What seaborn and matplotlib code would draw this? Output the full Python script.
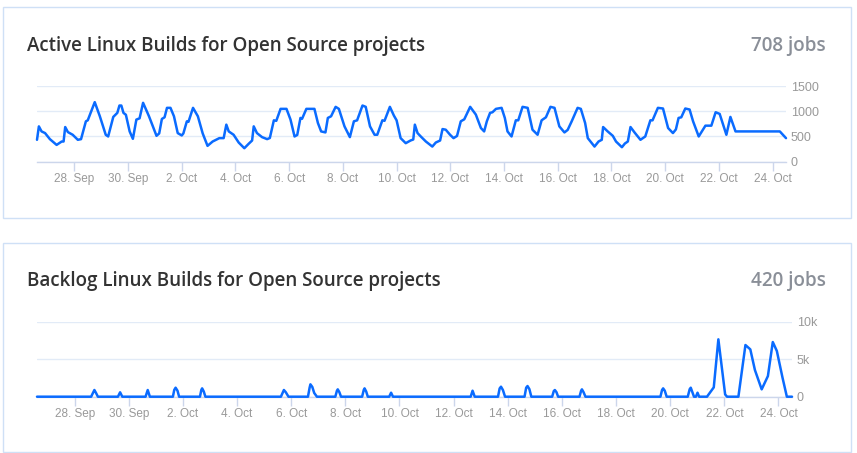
import matplotlib
matplotlib.use("Agg")
import matplotlib.pyplot as plt
import matplotlib.dates as mdates
from matplotlib.patches import Rectangle
import seaborn as sns
import pandas as pd

# time in days after 28 Sep 00:00
active_days = [
    -1.39, -1.32, -1.22, -1.09, -0.91, -0.66, -0.47, -0.40, -0.34, -0.24, -0.06,
    0.13, 0.25, 0.43, 0.50, 0.76, 0.95, 1.17, 1.26, 1.45, 1.60, 1.68, 1.75, 1.83,
    1.92, 2.06, 2.18, 2.31, 2.43, 2.56, 2.78, 3.06, 3.16, 3.26, 3.36, 3.45, 3.58,
    3.71, 3.85, 4.00, 4.06, 4.19, 4.25, 4.42, 4.60, 4.78, 4.96, 5.15, 5.40, 5.56,
    5.66, 5.75, 5.93, 6.12, 6.33, 6.49, 6.62, 6.68, 6.80, 6.99, 7.18, 7.28, 7.43,
    7.52, 7.68, 7.90, 8.05, 8.20, 8.30, 8.42, 8.48, 8.64, 8.94, 9.07, 9.19, 9.35,
    9.44, 9.56, 9.73, 9.85, 10.06, 10.26, 10.41, 10.53, 10.73, 10.85, 11.01, 11.18,
    11.28, 11.47, 11.55, 11.75, 11.90, 12.00, 12.15, 12.34, 12.52, 12.62, 12.68,
    12.78, 12.90, 13.09, 13.33, 13.46, 13.62, 13.71, 13.83, 13.99, 14.12, 14.25,
    14.39, 14.52, 14.74, 14.95, 15.14, 15.26, 15.36, 15.48, 15.57, 15.70, 15.91,
    16.03, 16.13, 16.28, 16.44, 16.53, 16.69, 16.88, 17.06, 17.25, 17.40, 17.56,
    17.73, 17.88, 18.06, 18.25, 18.37, 18.52, 18.74, 18.86, 19.02, 19.12, 19.37,
    19.52, 19.64, 19.69, 19.86, 20.05, 20.17, 20.39, 20.50, 20.61, 20.71, 20.86,
    21.08, 21.26, 21.45, 21.53, 21.73, 21.92, 22.11, 22.29, 22.40, 22.50, 22.60,
    22.75, 22.91, 23.04, 23.25, 23.50, 23.72, 23.88, 24.03, 24.28, 24.43, 24.62,
    26.27, 26.50,
]
active_jobs = [
    434, 700, 600, 567, 447, 333, 400, 400, 687, 587, 533,
    434, 447, 800, 820, 1180, 900, 533, 500, 887, 967, 1113, 1113, 967,
    930, 600, 453, 834, 860, 1167, 900, 513, 560, 847, 880, 1067, 1067,
    900, 567, 520, 560, 800, 790, 1067, 900, 560, 314, 400, 467, 467,
    734, 600, 534, 380, 267, 354, 420, 700, 567, 487, 447, 470, 820,
    810, 1047, 1047, 834, 500, 530, 867, 850, 1047, 1047, 767, 600, 580,
    867, 900, 1087, 1047, 700, 487, 800, 820, 1113, 1087, 700, 534,
    534, 820, 810, 1087, 913, 820, 467, 367, 420, 440, 734,
    567, 500, 400, 300, 380, 420, 647, 634, 534, 467, 510,
    800, 840, 1087, 934, 667, 600, 800, 967, 980, 1047, 1067,
    867, 600, 500, 820, 820, 1087, 1067, 634, 534, 820, 880,
    1087, 1067, 700, 580, 630, 800, 1067, 1047, 767, 467, 300,
    400, 434, 687, 600, 513, 400, 287, 360, 400, 687, 580,
    434, 500, 820, 820, 1067, 1054, 667, 567, 640, 867, 880,
    1054, 1034, 800, 500, 714, 714, 980, 947, 534, 887, 600,
    600, 467,
]

backlog_days = [
    -1.39, 0.61, 0.69, 0.73, 0.79, 0.86, 1.60, 1.68, 1.76, 2.62, 2.70, 2.78,
    3.63, 3.68, 3.73, 3.80, 3.86, 4.63, 4.68, 4.71, 4.77, 4.83, 7.62, 7.73,
    7.80, 7.90, 8.62, 8.68, 8.71, 8.78, 8.85, 8.95, 9.63, 9.69, 9.72, 9.78,
    9.84, 10.62, 10.68, 10.71, 10.77, 10.83, 11.62, 11.69, 11.76, 14.63, 14.70,
    14.78, 15.64, 15.70, 15.75, 15.82, 15.90, 16.62, 16.68, 16.73, 16.80, 16.87,
    17.64, 17.70, 17.74, 17.80, 17.86, 18.65, 18.71, 18.74, 18.80, 18.87, 21.64,
    21.70, 21.74, 21.80, 21.87, 22.65, 22.72, 22.76, 22.82, 22.88, 22.95, 23.01,
    23.07, 23.36, 23.61, 23.78, 24.03, 24.10, 24.52, 24.78, 24.96, 25.13, 25.38,
    25.61, 25.79, 25.94, 26.15, 26.31, 26.50,
]
backlog_jobs = [
    0, 0, 600, 893, 500, 0, 0, 586, 0, 0, 893, 0,
    0, 900, 1200, 800, 0, 0, 900, 1111, 700, 0, 0, 893,
    600, 0, 0, 1200, 1650, 1300, 500, 0, 0, 800, 978, 600,
    0, 0, 900, 1111, 700, 0, 0, 533, 0, 0, 800,
    0, 0, 1100, 1333, 900, 0, 0, 1200, 1422, 1000, 0,
    0, 750, 893, 600, 0, 0, 800, 978, 600, 0, 0,
    900, 1111, 800, 0, 0, 1000, 1200, 600, 0, 0, 533,
    0, 0, 1244, 7650, 300, 0, 0, 6890, 6310, 3560, 980,
    2750, 7290, 6100, 2530, 0, 0,
]

panel_titles = ["Active Linux Builds for Open Source projects",
                "Backlog Linux Builds for Open Source projects"]
panel_totals = ["708 jobs", "420 jobs"]
active_ticks = [0, 500, 1000, 1500]
active_tick_labels = ["0", "500", "1000", "1500"]
backlog_ticks = [0, 5000, 10000]
backlog_tick_labels = ["0", "5k", "10k"]

base = pd.Timestamp("2018-09-28")
date_ticks = pd.date_range("2018-09-28", "2018-10-24", freq="2D")

active = pd.DataFrame({"time": base + pd.to_timedelta(active_days, unit="D"),
                       "jobs": active_jobs})
backlog = pd.DataFrame({"time": base + pd.to_timedelta(backlog_days, unit="D"),
                        "jobs": backlog_jobs})

sns.set_theme(style="white")
plt.rcParams["font.family"] = ["Liberation Sans", "DejaVu Sans"]

W, H = 857, 453
fig = plt.figure(figsize=(W / 100, H / 100), dpi=100)

line_color = "#0a6bff"
grid_color = "#e2ebf7"
axis_color = "#ccd6eb"
label_color = "#999999"

# panel boxes (pixel coords -> figure coords)
for top_px, h_px in ((7.5, 210), (242.5, 209)):
    fig.patches.append(Rectangle((2.5 / W, 1 - (top_px + h_px) / H), 848 / W, h_px / H,
                                 transform=fig.transFigure, fill=False,
                                 edgecolor="#cfe0f6", linewidth=1.0))

ax1 = fig.add_axes([37 / W, 1 - 161.7 / H, 749 / W, 75.7 / H])
ax2 = fig.add_axes([37 / W, 1 - 396.7 / H, 755 / W, 75 / H])

setups = [
    (ax1, active, active_ticks, active_tick_labels, (0, 1500), 46),
    (ax2, backlog, backlog_ticks, backlog_tick_labels, (0, 10000), 281),
]

for i, (ax, df, yt, ytl, ylim, title_y) in enumerate(setups):
    sns.lineplot(data=df, x="time", y="jobs", ax=ax, color=line_color,
                 linewidth=1.8, zorder=3)
    ax.set_xlim(df["time"].iloc[0], df["time"].iloc[-1])
    ax.set_ylim(*ylim)
    ax.set_xlabel("")
    ax.set_ylabel("")
    ax.set_yticks(yt)
    ax.set_yticklabels(ytl)
    ax.yaxis.tick_right()
    ax.set_xticks(date_ticks)
    ax.xaxis.set_major_formatter(mdates.DateFormatter("%-d. %b"))
    ax.grid(axis="y", color=grid_color, linewidth=1.0)
    ax.grid(axis="x", visible=False)
    for side in ("top", "left", "right"):
        ax.spines[side].set_visible(False)
    ax.spines["bottom"].set_color(axis_color)
    ax.spines["bottom"].set_linewidth(1.0)
    ax.tick_params(axis="x", length=6.5, width=1.0, color=axis_color,
                   labelcolor=label_color, labelsize=8.5, pad=1.5, bottom=True)
    ax.tick_params(axis="y", length=0, labelcolor=label_color, labelsize=9,
                   pad=3.5, right=False, labelright=True, labelleft=False)
    for ln in ax.lines:
        ln.set_clip_on(False)

    fig.text(27 / W, 1 - title_y / H, panel_titles[i], family=["Open Sans", "DejaVu Sans"],
             fontsize=13.5, fontweight="semibold", color="#333333", va="center", ha="left")
    fig.text(826 / W, 1 - title_y / H, panel_totals[i], family=["Open Sans", "DejaVu Sans"],
             fontsize=13.6, fontweight="semibold", color="#8a8f98", va="center", ha="right")

fig.savefig("out.png", dpi=100, facecolor="white")
